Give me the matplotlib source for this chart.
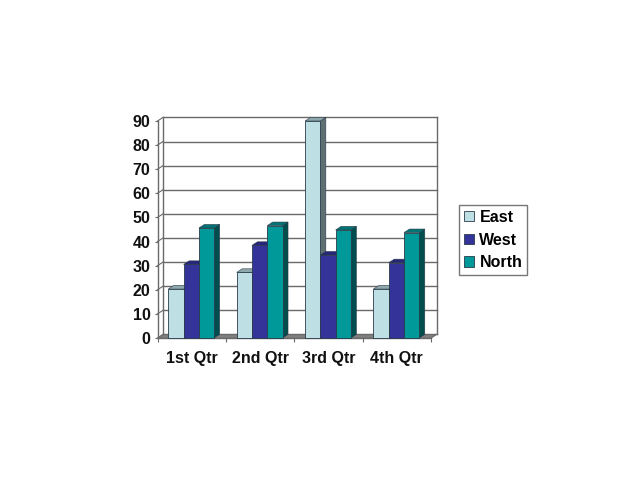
import matplotlib
matplotlib.use("Agg")
import matplotlib.pyplot as plt
from matplotlib.patches import Patch, Polygon

plt.rcParams['font.family'] = ['Liberation Sans', 'DejaVu Sans']

categories = ["1st Qtr", "2nd Qtr", "3rd Qtr", "4th Qtr"]
east = [20.3, 27.2, 90, 20.3]
west = [30.5, 38.4, 34.4, 31.2]
north = [45.6, 46.6, 44.8, 43.7]
series_names = ["East", "West", "North"]
yticks = [0, 10, 20, 30, 40, 50, 60, 70, 80, 90]

front_colors = ["#BEE0E4", "#333399", "#009999"]
side_colors = ["#5F7072", "#1A1A4D", "#004D4D"]
top_colors = ["#8FA8AB", "#26267A", "#007373"]
line_col = "#6A6A6A"
edge_col = "#2A3A4A"

W, H = 638, 478
fig = plt.figure(figsize=(W / 100, H / 100), dpi=100, facecolor="white")
L, R, B, T = 157.5, 431.0, 338.0, 121.0
ax = fig.add_axes([L / W, 1 - B / H, (R - L) / W, (B - T) / H])
ax.set_xlim(0, 4)
ax.set_ylim(0, 90)
for s in ax.spines.values():
    s.set_visible(False)
ax.patch.set_alpha(0)

dx = 5.5 / ((R - L) / 4)
dy = 3.6 / ((B - T) / 90)
offset = 0.158
bw = 0.2235

# floor
ax.add_patch(Polygon([(0, 0), (4, 0), (4 + dx, dy), (dx, dy)], closed=True,
                     facecolor="#808080", edgecolor="#707070", lw=0.6,
                     clip_on=False, zorder=1))
# walls and gridlines
for v in yticks:
    yv = v + dy
    ax.plot([dx, 4 + dx], [yv, yv], color=line_col, lw=1.0, clip_on=False, zorder=1.5)
    ax.plot([0, dx], [v, yv], color=line_col, lw=0.8, clip_on=False, zorder=1.5)
ax.plot([dx, dx], [dy, 90 + dy], color=line_col, lw=1.0, clip_on=False, zorder=1.5)
ax.plot([4 + dx, 4 + dx], [dy, 90 + dy], color=line_col, lw=1.0, clip_on=False, zorder=1.5)
ax.plot([4, 4 + dx], [0, dy], color=line_col, lw=0.8, clip_on=False, zorder=1.5)
ax.plot([0, 0], [0, 90], color=line_col, lw=1.0, clip_on=False, zorder=1.5)
ax.plot([0, 4], [0, 0], color=line_col, lw=1.0, clip_on=False, zorder=1.5)

# bars, drawn back-to-front so that each bar covers the side of the previous one
for c in range(len(categories)):
    for i, vals in enumerate([east, west, north]):
        x0 = c + offset + i * bw
        x1 = x0 + bw
        v = vals[c]
        z = 3 + i * 0.1
        ax.add_patch(Polygon([(x1, 0), (x1 + dx, dy), (x1 + dx, v + dy), (x1, v)], closed=True,
                             facecolor=side_colors[i], edgecolor=edge_col, lw=0.4,
                             clip_on=False, zorder=z))
        ax.add_patch(Polygon([(x0, v), (x1, v), (x1 + dx, v + dy), (x0 + dx, v + dy)], closed=True,
                             facecolor=top_colors[i], edgecolor=edge_col, lw=0.4,
                             clip_on=False, zorder=z))
        ax.bar(x0, v, width=bw, align="edge", color=front_colors[i], edgecolor=edge_col,
               linewidth=0.6, zorder=z + 0.05, clip_on=False)

ax.set_yticks(yticks)
ax.set_xticks(range(5))
ax.set_xticklabels([])
ax.set_xticks([c + 0.5 for c in range(4)], labels=categories, minor=True)
ax.tick_params(axis="y", length=2, width=0.8, color=line_col, pad=3.0, labelsize=11.5)
ax.tick_params(axis="x", which="major", length=3, width=0.8, color=line_col)
ax.tick_params(axis="x", which="minor", length=0, pad=9, labelsize=11.5)
for t in ax.get_yticklabels() + ax.get_xticklabels(minor=True):
    t.set_fontweight("bold")
    t.set_color("#111111")

handles = [Patch(facecolor=front_colors[i], edgecolor=edge_col, linewidth=0.6, label=series_names[i])
           for i in range(3)]
leg = fig.legend(handles=handles, loc="center left",
                 bbox_to_anchor=(459 / W, 1 - 240 / H), borderaxespad=0,
                 frameon=True, fancybox=False, edgecolor="#777777", framealpha=1,
                 prop={"weight": "bold", "size": 11.5},
                 handlelength=0.66, handleheight=0.66, handletextpad=0.32,
                 labelspacing=0.5, borderpad=0.3)
leg.get_frame().set_linewidth(1.0)

fig.savefig("out.png", dpi=100, facecolor="white")
